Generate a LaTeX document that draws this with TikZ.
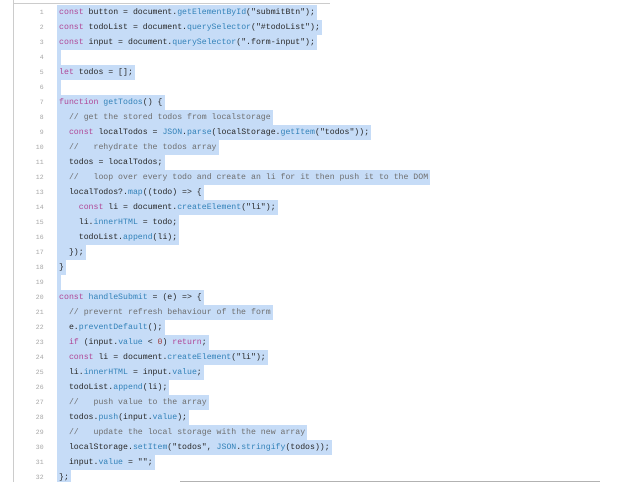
\documentclass[tikz,border=0pt]{standalone}
\usepackage{fontspec}
\setmonofont{Liberation Mono}
\definecolor{hl}{RGB}{198,220,247}
\definecolor{kw}{RGB}{176,70,150}
\definecolor{mt}{RGB}{50,130,185}
\definecolor{cm}{RGB}{110,110,110}
\definecolor{tx}{RGB}{40,40,40}
\definecolor{nm}{RGB}{165,165,165}
\definecolor{nu}{RGB}{160,60,60}
\newcommand\K[1]{\textcolor{kw}{#1}}
\newcommand\M[1]{\textcolor{mt}{#1}}
\newcommand\C[1]{\textcolor{cm}{#1}}
\newcommand\N[1]{\textcolor{nu}{#1}}
\tikzset{
 codeln/.style={anchor=west,fill=hl,inner xsep=2pt,inner ysep=0pt,text height=10pt,text depth=5pt,font=\ttfamily\fontsize{8.2}{10}\selectfont,text=tx},
 numln/.style={anchor=east,inner sep=0pt,font=\ttfamily\fontsize{6.5}{8}\selectfont,text=nm}
}
\newcommand\cl[2]{\node[numln] (n#1) at (44,{-12-15*(#1-1)}) {#1};
 \node[codeln] (l#1) at (57,{-12-15*(#1-1)}) {#2};}
\begin{document}
\begin{tikzpicture}[x=1pt,y=1pt]
\useasboundingbox (0,0) rectangle (624,-482);
\fill[white] (0,0) rectangle (624,-482);
\draw[gray!40] (13,0) -- (13,-482);
\draw[gray!40] (13,-3) -- (330,-3);
\draw[gray!60,line width=1pt] (180,-481) -- (600,-481);
\cl{1}{\K{const} button = document.\M{getElementById}("submitBtn");}
\cl{2}{\K{const} todoList = document.\M{querySelector}("\#todoList");}
\cl{3}{\K{const} input = document.\M{querySelector}(".form-input");}
\cl{4}{~}
\cl{5}{\K{let} todos = [];}
\cl{6}{~}
\cl{7}{\K{function} \M{getTodos}() \{}
\cl{8}{~~\C{// get the stored todos from localstorage}}
\cl{9}{~~\K{const} localTodos = \M{JSON}.\M{parse}(localStorage.\M{getItem}("todos"));}
\cl{10}{~~\C{//~~~rehydrate the todos array}}
\cl{11}{~~todos = localTodos;}
\cl{12}{~~\C{//~~~loop over every todo and create an li for it then push it to the DOM}}
\cl{13}{~~localTodos?.\M{map}((todo) => \{}
\cl{14}{~~~~\K{const} li = document.\M{createElement}("li");}
\cl{15}{~~~~li.\M{innerHTML} = todo;}
\cl{16}{~~~~todoList.\M{append}(li);}
\cl{17}{~~\});}
\cl{18}{\}}
\cl{19}{~}
\cl{20}{\K{const} \M{handleSubmit} = (e) => \{}
\cl{21}{~~\C{// prevernt refresh behaviour of the form}}
\cl{22}{~~e.\M{preventDefault}();}
\cl{23}{~~\K{if} (input.\M{value} < \N{0}) \K{return};}
\cl{24}{~~\K{const} li = document.\M{createElement}("li");}
\cl{25}{~~li.\M{innerHTML} = input.\M{value};}
\cl{26}{~~todoList.\M{append}(li);}
\cl{27}{~~\C{//~~~push value to the array}}
\cl{28}{~~todos.\M{push}(input.\M{value});}
\cl{29}{~~\C{//~~~update the local storage with the new array}}
\cl{30}{~~localStorage.\M{setItem}("todos", \M{JSON}.\M{stringify}(todos));}
\cl{31}{~~input.\M{value} = "";}
\cl{32}{\};}
\end{tikzpicture}
\end{document}
